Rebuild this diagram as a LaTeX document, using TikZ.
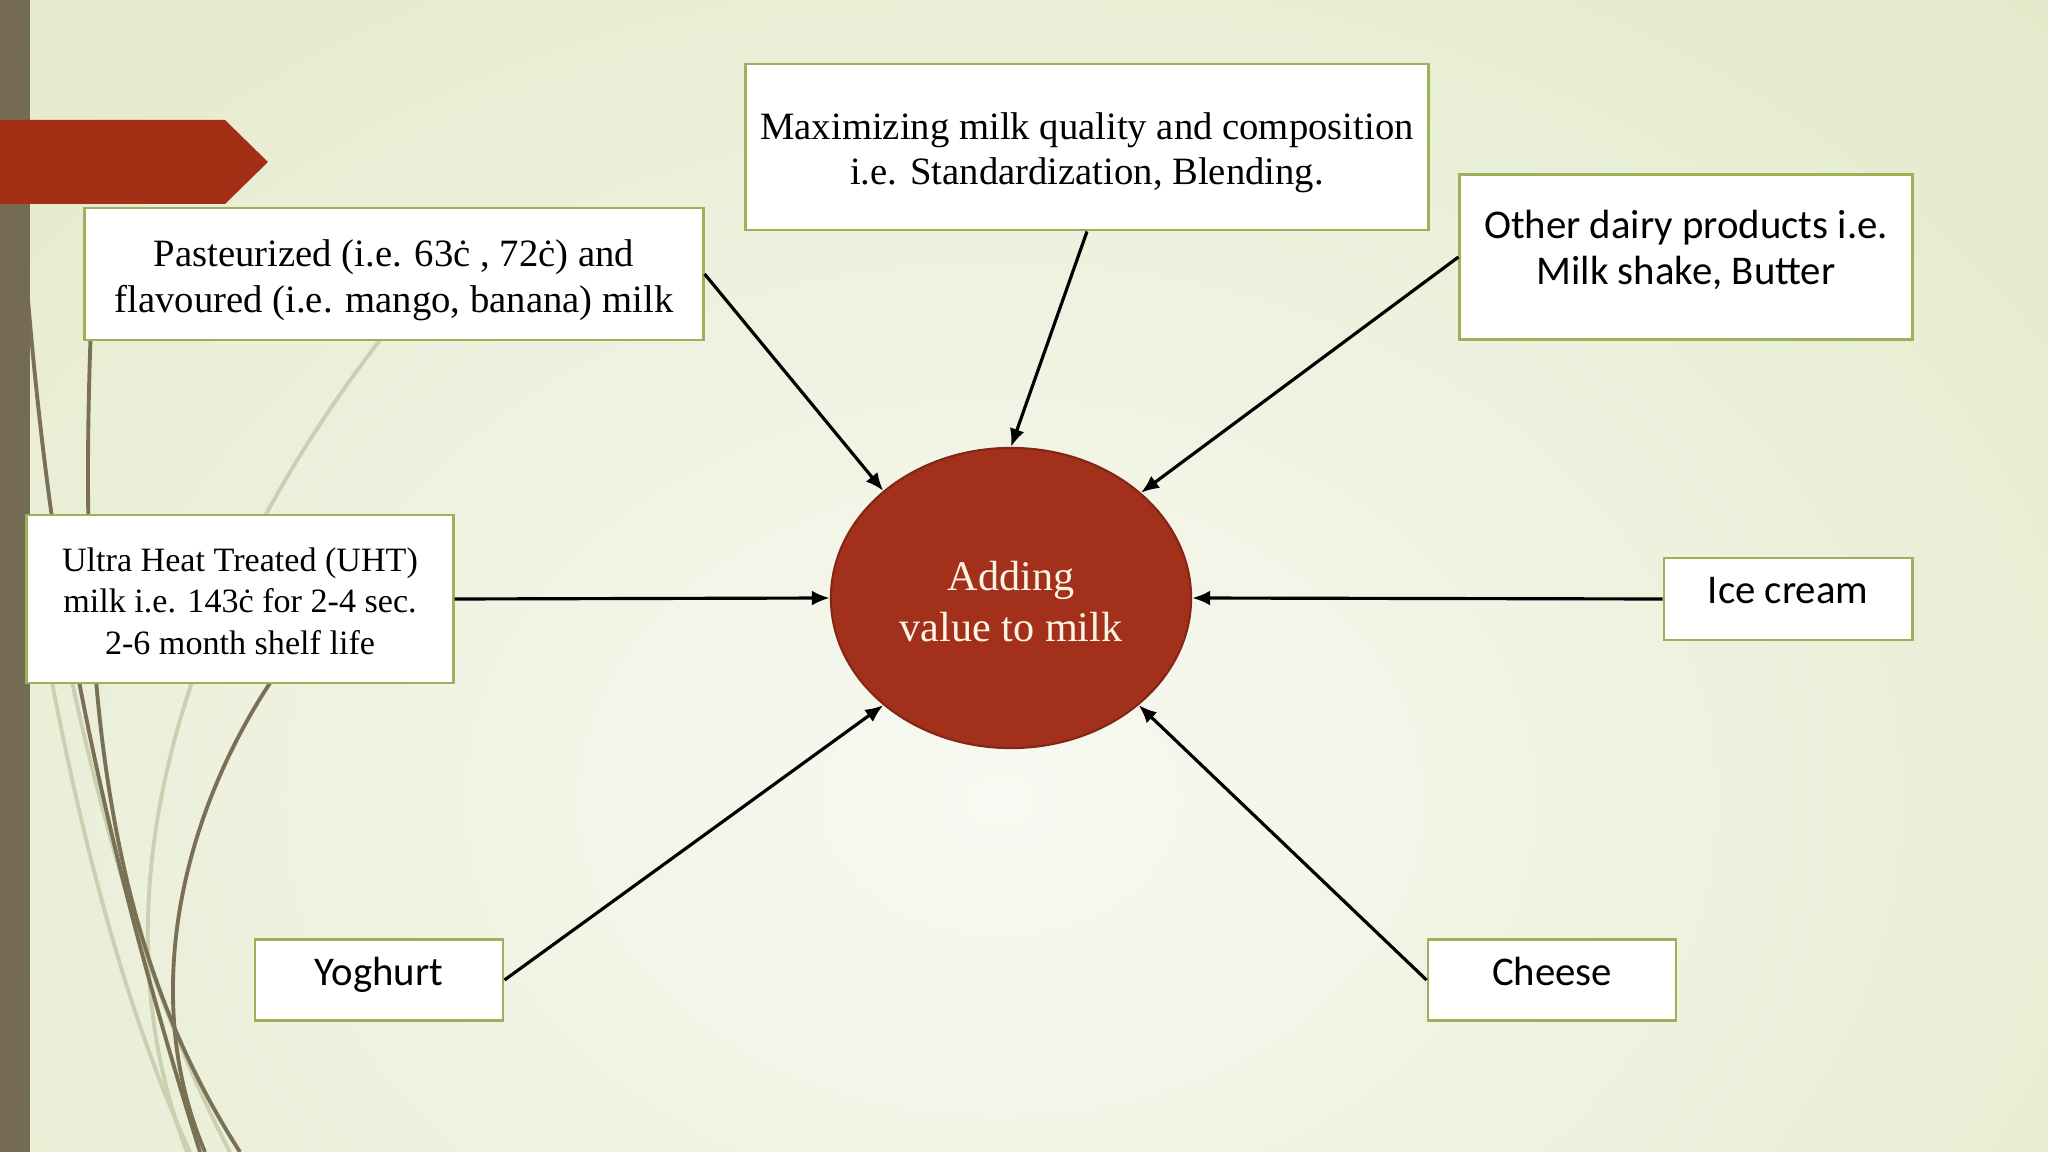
\documentclass[tikz,border=0pt]{standalone}
\usepackage{fontspec}
\setmainfont{Liberation Serif}
\newfontfamily\calibri{Carlito}
\usetikzlibrary{arrows.meta,shapes.geometric}

\definecolor{barbrown}{HTML}{756B55}
\definecolor{bannerred}{HTML}{A52F14}
\definecolor{ellred}{HTML}{A3301A}
\definecolor{boxgreen}{HTML}{9BB259}
\definecolor{bgpale}{HTML}{F8F9F2}
\definecolor{bggreen}{HTML}{DCE4BC}
\definecolor{vinedark}{HTML}{797055}
\definecolor{vinelight}{HTML}{CAD1B0}
\definecolor{cream}{HTML}{FDF5E6}

% text lines moved up or down inside a box, size kept
\newcommand{\shifted}[2]{\raisebox{#1}[\height][\depth]{\begin{tabular}{@{}c@{}}#2\end{tabular}}}

\tikzset{
  box/.style={draw=boxgreen,line width=0.8pt,fill=white,align=center,inner sep=0pt},
  serifbox/.style={box,font=\fontsize{11}{13}\selectfont},
  sansbox/.style={box,font=\calibri\fontsize{11.6}{13}\selectfont},
  flow/.style={-{Latex[length=1.8mm,width=1.5mm]},line width=0.9pt},
  vine/.style={vinedark,line width=1.1pt},
  palevine/.style={vinelight,line width=1.1pt}
}

\begin{document}
\begin{tikzpicture}[x=0.01cm,y=-0.01cm]
\useasboundingbox (0,0) rectangle (2048,1152);
% slide background
\begin{scope}
\clip (0,0) rectangle (2048,1152);
\shade[inner color=bgpale,outer color=bggreen] (-1000,-700) rectangle (3000,2300);
\end{scope}
\draw[palevine] (380,340) .. controls (180,600) and (90,900) .. (187,1152);
\draw[palevine] (30,560) .. controls (70,800) and (120,1000) .. (190,1152);
\draw[palevine] (40,520) .. controls (90,800) and (150,1000) .. (230,1152);
\draw[vine] (28,300) .. controls (50,560) and (90,800) .. (200,1152);
\draw[vine] (92,300) .. controls (75,700) and (110,950) .. (240,1152);
\draw[vine] (270,683) .. controls (180,820) and (140,1000) .. (205,1152);
\fill[barbrown] (0,0) rectangle (30,1152);
\fill[bannerred] (0,120) -- (225,120) -- (268,162) -- (225,204) -- (0,204) -- cycle;

% centre
\node[ellipse,fill=ellred,draw=ellred!80!black,line width=0.6pt,minimum width=3.6cm,minimum height=3cm,
  text=cream,font=\fontsize{12}{14.5}\selectfont] (value) at (1011,598) {\shifted{-2.3pt}{Adding\\value to milk}};

% boxes
\node[serifbox,minimum width=6.82cm,minimum height=1.66cm] (quality) at (1087,147)
  {\shifted{-1.7pt}{Maximizing milk quality and composition\\i.e. Standardization, Blending.}};
\node[serifbox,minimum width=6.18cm,minimum height=1.32cm] (pasteur) at (394,274)
  {\shifted{-1.8pt}{Pasteurized (i.e. 63ċ , 72ċ) and\\flavoured (i.e. mango, banana) milk}};
\node[serifbox,font=\fontsize{9.7}{11.7}\selectfont,minimum width=4.26cm,minimum height=1.68cm] (uht) at (240,599)
  {\shifted{-1.6pt}{Ultra Heat Treated (UHT)\\milk i.e. 143ċ for 2-4 sec.\\2-6 month shelf life}};
\node[sansbox,minimum width=4.52cm,minimum height=1.65cm] (other) at (1686,257)
  {\shifted{1.3pt}{Other dairy products i.e.\\Milk shake, Butter}};
\node[sansbox,minimum width=2.48cm,minimum height=0.82cm] (icecream) at (1788,599) {\shifted{1.3pt}{Ice cream}};
\node[sansbox,minimum width=2.48cm,minimum height=0.81cm] (yoghurt) at (379,980) {\shifted{1.05pt}{Yoghurt}};
\node[sansbox,minimum width=2.48cm,minimum height=0.81cm] (cheese) at (1552,980) {\shifted{1.1pt}{Cheese}};

% arrows into the centre
\draw[flow] (quality.south) -- (value.north);
\draw[flow] (pasteur.east) -- (value.140);
\draw[flow] (other.west) -- (value.39);
\draw[flow] (uht.east) -- (value.west);
\draw[flow] (icecream.west) -- (value.east);
\draw[flow] (yoghurt.east) -- (value.220);
\draw[flow] (cheese.west) -- (value.320);
\end{tikzpicture}
\end{document}
